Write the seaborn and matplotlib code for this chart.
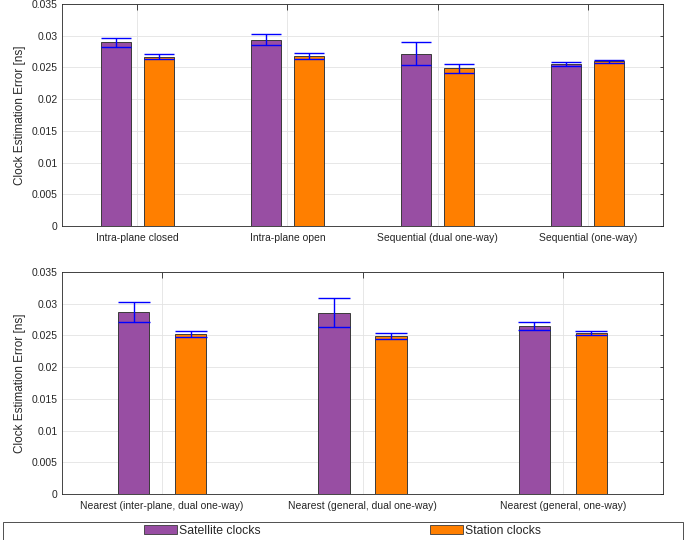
import matplotlib
matplotlib.use("Agg")
import matplotlib.pyplot as plt
from matplotlib.patches import Rectangle
from matplotlib.ticker import FormatStrFormatter
import seaborn as sns
import pandas as pd

# top panel
methods_top = ["Intra-plane closed", "Intra-plane open",
               "Sequential (dual one-way)", "Sequential (one-way)"]
sat_top = [0.02894, 0.02936, 0.02715, 0.02558]
sat_top_err = [0.00068, 0.00084, 0.00184, 0.00031]
sta_top = [0.02668, 0.02678, 0.02484, 0.02595]
sta_top_err = [0.00042, 0.00045, 0.00066, 0.00026]

# bottom panel
methods_bot = ["Nearest (inter-plane, dual one-way)",
               "Nearest (general, dual one-way)",
               "Nearest (general, one-way)"]
sat_bot = [0.02871, 0.02855, 0.02652]
sat_bot_err = [0.00152, 0.00229, 0.00061]
sta_bot = [0.02521, 0.02495, 0.02542]
sta_bot_err = [0.00050, 0.00050, 0.00029]

clocks = ["Satellite clocks", "Station clocks"]
colors = ["#984EA3", "#FF7F00"]

sns.set_style("white")
plt.rcParams["font.family"] = ["Liberation Sans", "DejaVu Sans"]

AX_GRAY = "#262626"


def make_df(methods, sat, sta):
    return pd.DataFrame({
        "method": methods * 2,
        "err": sat + sta,
        "clock": [clocks[0]] * len(methods) + [clocks[1]] * len(methods),
    })


def draw_panel(ax, methods, sat, sat_err, sta, sta_err, gap, capsize):
    df = make_df(methods, sat, sta)
    sns.barplot(data=df, x="method", y="err", hue="clock", hue_order=clocks,
                palette=colors, width=0.57, gap=gap, errorbar=None,
                edgecolor="#3a3a3a", linewidth=0.7, saturation=1,
                legend=False, ax=ax, zorder=2)
    # blue error bars on top of each bar
    for cont, errs in zip(ax.containers, [sat_err, sta_err]):
        xs = [b.get_x() + b.get_width() / 2 for b in cont]
        ys = [b.get_height() for b in cont]
        ax.errorbar(xs, ys, yerr=errs, fmt="none", ecolor="blue",
                    elinewidth=1.0, capsize=capsize, capthick=1.0, zorder=3)
    ax.set_xlim(-0.5, len(methods) - 0.5)
    ax.set_ylim(0, 0.035)
    ax.set_yticks([0, 0.005, 0.01, 0.015, 0.02, 0.025, 0.03, 0.035])
    ax.yaxis.set_major_formatter(FormatStrFormatter("%g"))
    ax.set_xlabel("")
    ax.set_ylabel("Clock Estimation Error [ns]", fontsize=8.5, color=AX_GRAY)
    ax.grid(True, color="#e3e3e3", linewidth=0.6, zorder=0)
    ax.set_axisbelow(True)
    ax.tick_params(axis="both", direction="in", top=True, right=True,
                   labelsize=7.5, colors=AX_GRAY, width=0.6)
    ax.tick_params(axis="x", length=4.5, pad=5)
    ax.tick_params(axis="y", length=2.5, pad=3)
    for s in ax.spines.values():
        s.set_visible(True)
        s.set_color(AX_GRAY)
        s.set_linewidth(0.6)


fig = plt.figure(figsize=(6.85, 5.4), dpi=100)
ax1 = fig.add_axes([0.0905, 0.5815, 0.8774, 0.411])
ax2 = fig.add_axes([0.0905, 0.0852, 0.8774, 0.411])

draw_panel(ax1, methods_top, sat_top, sat_top_err, sta_top, sta_top_err,
           gap=0.3, capsize=10.8)
draw_panel(ax2, methods_bot, sat_bot, sat_bot_err, sta_bot, sta_bot_err,
           gap=0.45, capsize=11.2)

# legend box across the bottom
fig.patches.append(Rectangle((3 / 685, 0.0), 680 / 685, 18 / 540,
                             transform=fig.transFigure, facecolor="white",
                             edgecolor="#333333", linewidth=0.6))
handles = [Rectangle((0, 0), 1, 1, facecolor=c, edgecolor="#3a3a3a",
                     linewidth=0.6) for c in colors]
fig.legend(handles, clocks, loc="center", ncol=2, frameon=False,
           bbox_to_anchor=(0.5, 9.5 / 540), fontsize=8.8,
           handlelength=2.7, handleheight=0.75, handletextpad=0.15,
           columnspacing=13.9, borderpad=0)

fig.savefig("out.png", dpi=100)
